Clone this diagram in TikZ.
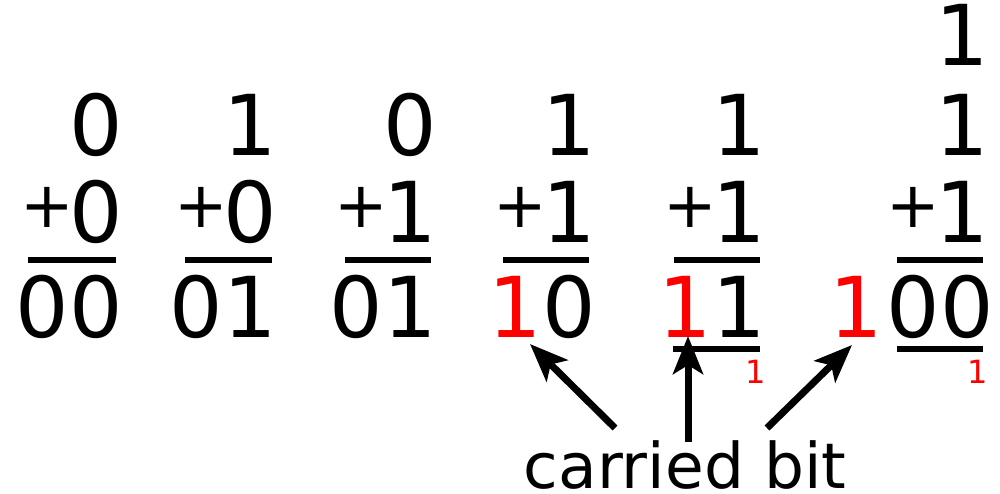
\documentclass[tikz,border=0pt]{standalone}
\usepackage{fontspec}
\setmainfont{DejaVu Sans}
\usetikzlibrary{arrows.meta}
\definecolor{cred}{RGB}{255,0,0}
\newcommand{\plusmark}{\raisebox{15pt}{\fontsize{64}{64}\selectfont +}\kern-4.5pt\relax}
\begin{document}
\begin{tikzpicture}[x=1pt,y=-1pt,
  dig/.style={font=\fontsize{84}{84}\selectfont, inner sep=0pt, anchor=base east},
  small/.style={font=\fontsize{32}{32}\selectfont, inner sep=0pt, anchor=base east, text=cred},
  bar/.style={line width=6pt},
  carry/.style={line width=7pt, -{Stealth[length=38pt, width=30pt, inset=9pt]}}]
\useasboundingbox (0,0) rectangle (1000,493);
% top carry row
\node[dig] (r0f) at (989,65) {1};
% first operand
\node[dig] (r1a) at (123,155) {0};
\node[dig] (r1b) at (277,155) {1};
\node[dig] (r1c) at (437,155) {0};
\node[dig] (r1d) at (596,155) {1};
\node[dig] (r1e) at (766,155) {1};
\node[dig] (r1f) at (989,155) {1};
% second operand with plus signs
\node[dig] (r2a) at (123,242) {\plusmark 0};
\node[dig] (r2b) at (277,242) {\plusmark 0};
\node[dig] (r2c) at (437,242) {\plusmark 1};
\node[dig] (r2d) at (596,242) {\plusmark 1};
\node[dig] (r2e) at (766,242) {\plusmark 1};
\node[dig] (r2f) at (989,242) {\plusmark 1};
% sum lines
\draw[bar] (28,260) -- (116,260);
\draw[bar] (185,260) -- (272,260);
\draw[bar] (345,260) -- (431,260);
\draw[bar] (503,260) -- (589,260);
\draw[bar] (674,260) -- (760,260);
\draw[bar] (897,260) -- (983,260);
% results
\node[dig] (r3a) at (123,337) {00};
\node[dig] (r3b) at (277,337) {01};
\node[dig] (r3c) at (437,337) {01};
\node[dig] (r3d) at (596,337) {{\color{cred}1}0};
\node[dig] (r3e) at (766,337) {{\color{cred}1}1};
\node[dig, text=cred] (r3f) at (883,337) {1};
\node[dig] (r3g) at (994,337) {00};
% lower lines and small carries
\draw[bar] (673,349) -- (760,349);
\draw[bar] (897,349) -- (983,349);
\node[small] (s1) at (766,383) {1};
\node[small] (s2) at (988,383) {1};
% label and arrows
\node[font=\fontsize{63}{63}\selectfont, inner sep=0pt, anchor=base] (cb) at (685,488) {carried bit};
\coordinate (t1) at (615,428);
\coordinate (t2) at (688,442);
\coordinate (t3) at (767,428);
\coordinate (h1) at (530,344);
\coordinate (h2) at (688,336);
\coordinate (h3) at (852,345);
\draw[carry] (t1) -- (h1);
\draw[carry] (t2) -- (h2);
\draw[carry] (t3) -- (h3);
\end{tikzpicture}
\end{document}
